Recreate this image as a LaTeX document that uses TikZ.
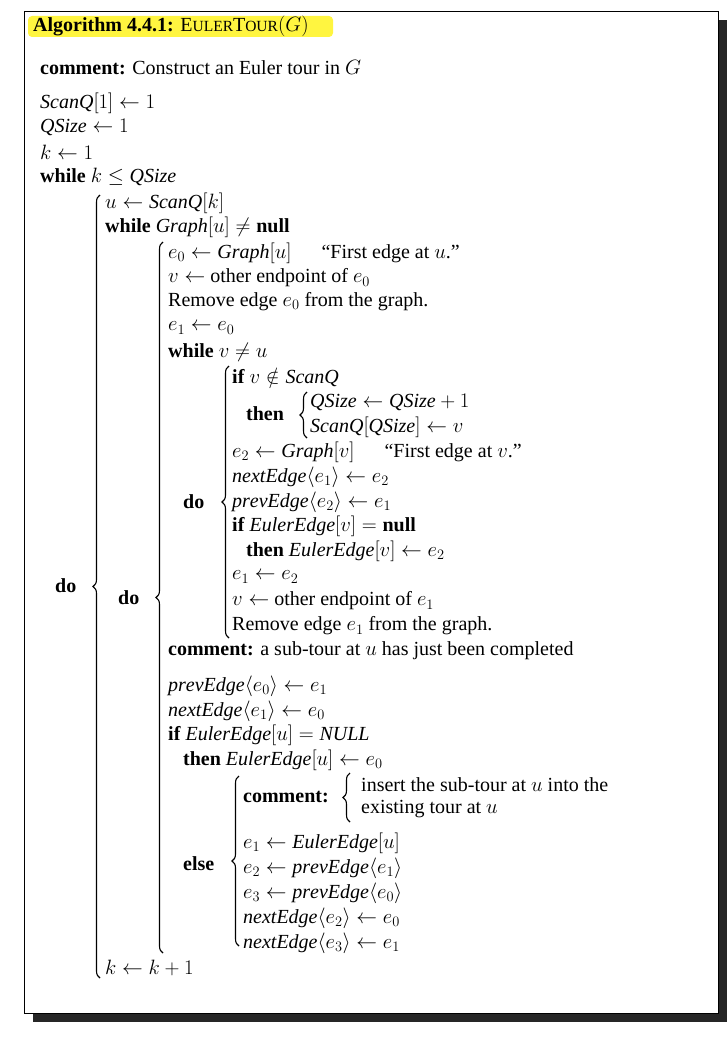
\documentclass[tikz,border=0pt]{standalone}
\usepackage{fontspec}
\setmainfont{Liberation Serif}
\usetikzlibrary{decorations.pathreplacing}
\newcommand{\sce}[1]{{\fontsize{15.5}{18}\selectfont #1}}
\begin{document}
\begin{tikzpicture}[x=1pt,y=-1pt,
  t/.style={anchor=west,inner sep=0pt,font=\fontsize{20}{24}\selectfont},
  br/.style={decorate,decoration={brace,amplitude=7pt},line width=1.1pt}]
\useasboundingbox (0,0) rectangle (727,1041);
\fill[black!85] (33,20) rectangle (727,1022);
\draw[fill=white,line width=0.8pt] (24,11) rectangle (718,1013);
\fill[yellow!75,rounded corners=4pt] (28,16) rectangle (333,37);
\node[t] (title) at (33,26) {\textbf{Algorithm 4.4.1:} E\sce{ULER}T\sce{OUR}$(G)$};
\node[t] (l1) at (40,68) {\textbf{comment:} Construct an Euler tour in $G$};
\node[t] (l2) at (40,103) {$\mathit{ScanQ}[1]\leftarrow 1$};
\node[t] (l3) at (40,127) {$\mathit{QSize}\leftarrow 1$};
\node[t] (l4) at (40,152) {$k\leftarrow 1$};
\node[t] (l5) at (40,177) {\textbf{while} $k\le \mathit{QSize}$};
\node[t] (do1) at (55,586) {\textbf{do}};
\node[t] (l6) at (105,203) {$u\leftarrow \mathit{ScanQ}[k]$};
\node[t] (l7) at (105,227) {\textbf{while} $\mathit{Graph}[u]\ne \mathbf{null}$};
\node[t] (do2) at (118,598) {\textbf{do}};
\node[t] (l8) at (168,253) {$e_0\leftarrow \mathit{Graph}[u]$\hspace{30pt}``First edge at $u$.''};
\node[t] (l9) at (168,278) {$v\leftarrow$ other endpoint of $e_0$};
\node[t] (l10) at (168,302) {Remove edge $e_0$ from the graph.};
\node[t] (l11) at (168,328) {$e_1\leftarrow e_0$};
\node[t] (l12) at (168,352) {\textbf{while} $v\ne u$};
\node[t] (do3) at (183,502) {\textbf{do}};
\node[t] (l13) at (232,377) {\textbf{if} $v\notin \mathit{ScanQ}$};
\node[t] (then1) at (246,414) {\textbf{then}};
\node[t] (l14) at (310,402) {$\mathit{QSize}\leftarrow \mathit{QSize}+1$};
\node[t] (l15) at (310,427) {$\mathit{ScanQ}[\mathit{QSize}]\leftarrow v$};
\node[t] (l16) at (232,452) {$e_2\leftarrow \mathit{Graph}[v]$\hspace{30pt}``First edge at $v$.''};
\node[t] (l17) at (232,477) {$\mathit{nextEdge}\langle e_1\rangle\leftarrow e_2$};
\node[t] (l18) at (232,502) {$\mathit{prevEdge}\langle e_2\rangle\leftarrow e_1$};
\node[t] (l19) at (232,526) {\textbf{if} $\mathit{EulerEdge}[v]=\mathbf{null}$};
\node[t] (l20) at (246,551) {\textbf{then} $\mathit{EulerEdge}[v]\leftarrow e_2$};
\node[t] (l21) at (232,577) {$e_1\leftarrow e_2$};
\node[t] (l22) at (232,601) {$v\leftarrow$ other endpoint of $e_1$};
\node[t] (l23) at (232,626) {Remove edge $e_1$ from the graph.};
\node[t] (l24) at (168,651) {\textbf{comment:} a sub-tour at $u$ has just been completed};
\node[t] (l25) at (168,686) {$\mathit{prevEdge}\langle e_0\rangle\leftarrow e_1$};
\node[t] (l26) at (168,711) {$\mathit{nextEdge}\langle e_1\rangle\leftarrow e_0$};
\node[t] (l27) at (168,735) {\textbf{if} $\mathit{EulerEdge}[u]=\mathit{NULL}$};
\node[t] (l28) at (183,760) {\textbf{then} $\mathit{EulerEdge}[u]\leftarrow e_0$};
\node[t] (else1) at (183,864) {\textbf{else}};
\node[t] (l29) at (243,797) {\textbf{comment:}};
\node[t] (l30) at (361,785) {insert the sub-tour at $u$ into the};
\node[t] (l31) at (361,809) {existing tour at $u$};
\node[t] (l32) at (243,843) {$e_1\leftarrow \mathit{EulerEdge}[u]$};
\node[t] (l33) at (243,868) {$e_2\leftarrow \mathit{prevEdge}\langle e_1\rangle$};
\node[t] (l34) at (243,893) {$e_3\leftarrow \mathit{prevEdge}\langle e_0\rangle$};
\node[t] (l35) at (243,918) {$\mathit{nextEdge}\langle e_2\rangle\leftarrow e_0$};
\node[t] (l36) at (243,943) {$\mathit{nextEdge}\langle e_3\rangle\leftarrow e_1$};
\node[t] (l37) at (105,968) {$k\leftarrow k+1$};
\draw[br] (100,978) -- (100,195);
\draw[br] (163,953) -- (163,242);
\draw[br] (229,638) -- (229,366);
\draw[br] (307,438) -- (307,392);
\draw[br] (350,822) -- (350,773);
\draw[br] (239,946) -- (239,776);
\end{tikzpicture}
\end{document}
